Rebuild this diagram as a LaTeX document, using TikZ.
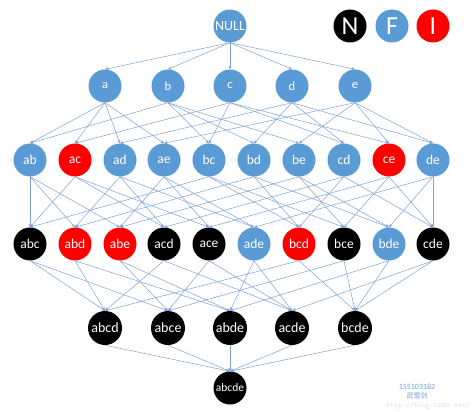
\documentclass[tikz,border=0pt]{standalone}
\usepackage{fontspec}
\setmainfont{Carlito}
\newfontfamily\cjk{Noto Sans CJK SC}
\usetikzlibrary{arrows.meta}
\definecolor{fblue}{HTML}{5B9BD5}
\definecolor{ired}{HTML}{FF0000}
\definecolor{edgec}{HTML}{7BA3D6}
\definecolor{wmblue}{HTML}{6A9FD8}
\tikzset{
  setnode/.style={circle,inner sep=0pt,minimum size=33pt,text=white,font=\fontsize{13.5}{13.5}\selectfont},
  fnode/.style={setnode,fill=fblue},
  inode/.style={setnode,fill=ired},
  nnode/.style={setnode,fill=black},
  legnode/.style={setnode,font=\fontsize{26}{26}\selectfont},
  edge/.style={draw=edgec,line width=0.5pt,-{Stealth[length=3.5pt,width=3pt]}}
}
\begin{document}
\begin{tikzpicture}[x=1pt,y=-1pt]
\useasboundingbox (0,0) rectangle (474,412);
\fill[white] (0,0) rectangle (474,412);
% legend
\node[legnode,fill=black] (lN) at (350,26) {N};
\node[legnode,fill=fblue] (lF) at (392,26) {F};
\node[legnode,fill=ired] (lI) at (433,26) {I};
% level 0
\node[fnode,minimum size=33pt,font=\fontsize{14}{14}\selectfont] (NULL) at (230,26) {NULL};
% level 1
\foreach \n/\x in {a/105,b/168,c/230,d/292,e/355}
  \node[fnode,font=\fontsize{12.5}{12.5}\selectfont] (\n) at (\x,86) {\n};
% level 2
\foreach \n/\x/\s in {ab/30/fnode,ac/75/inode,ad/120/fnode,ae/164/fnode,bc/209/fnode,bd/254/fnode,be/299/fnode,cd/344/fnode,ce/389/inode,de/433/fnode}
  \node[\s] (\n) at (\x,160) {\n};
% level 3
\foreach \n/\x/\s in {abc/30/nnode,abd/75/inode,abe/120/inode,acd/164/nnode,ace/209/nnode,ade/254/fnode,bcd/299/inode,bce/344/nnode,bde/389/fnode,cde/433/nnode}
  \node[\s] (\n) at (\x,244) {\n};
% level 4
\foreach \n/\x in {abcd/105,abce/168,abde/230,acde/292,bcde/355}
  \node[nnode,minimum size=34pt,font=\fontsize{14}{14}\selectfont] (\n) at (\x,328) {\n};
% level 5
\node[nnode,minimum size=33pt,font=\fontsize{11.5}{11.5}\selectfont] (abcde) at (230,388) {abcde};
% edges
\foreach \t in {a,b,c,d,e} \path[edge] (NULL.south) -- (\t.north);
\foreach \s/\t in {a/ab,a/ac,a/ad,a/ae,b/ab,b/bc,b/bd,b/be,c/ac,c/bc,c/cd,c/ce,d/ad,d/bd,d/cd,d/de,e/ae,e/be,e/ce,e/de}
  \path[edge] (\s.south) -- (\t.north);
\foreach \s/\t in {ab/abc,ab/abd,ab/abe,ac/abc,ac/acd,ac/ace,ad/abd,ad/acd,ad/ade,ae/abe,ae/ace,ae/ade,bc/abc,bc/bcd,bc/bce,bd/abd,bd/bcd,bd/bde,be/abe,be/bce,be/bde,cd/acd,cd/bcd,cd/cde,ce/ace,ce/bce,ce/cde,de/ade,de/bde,de/cde}
  \path[edge] (\s.south) -- (\t.north);
\foreach \s/\t in {abc/abcd,abc/abce,abd/abcd,abd/abde,abe/abce,abe/abde,acd/abcd,acd/acde,ace/abce,ace/acde,ade/abde,ade/acde,bcd/abcd,bcd/bcde,bce/abce,bce/bcde,bde/abde,bde/bcde,cde/acde,cde/bcde}
  \path[edge] (\s.south) -- (\t.north);
\foreach \s in {abcd,abce,abde,acde,bcde} \path[edge] (\s.south) -- (abcde.north);
% watermark
\node[text=wmblue,font=\fontsize{8}{8}\selectfont,inner sep=0pt] (wm1) at (417,387) {155103182};
\node[text=wmblue,font=\cjk\fontsize{7}{7}\selectfont,inner sep=0pt] (wm2) at (417,396) {武雪剑};
\node[text=black!12,font=\ttfamily\fontsize{7.5}{7.5}\selectfont,inner sep=0pt,anchor=east] (wm3) at (470,406) {http://blog.csdn.net/};
\end{tikzpicture}
\end{document}
